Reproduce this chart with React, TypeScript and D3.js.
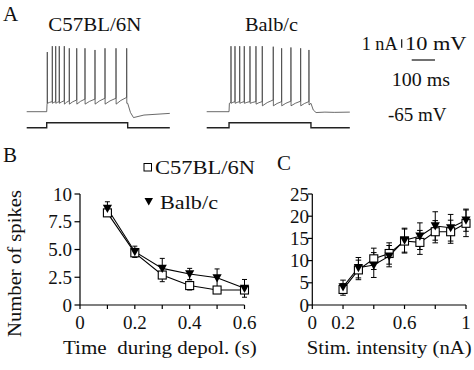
import React from 'react';
import * as d3 from 'd3';

// ---------- Panel A data (traces) ----------
const traceEndMs = 615;
const c57Onset = 86;
const c57Offset = 434;
const c57SpikeTimes = [88.5, 110, 124.6, 140, 161.6, 183, 215, 250.5, 293.5, 336.5, 383.8, 429.7];
const c57SpikePeaks = [6, 13, 13, 13, 13, 10.5, 10.5, 10.5, 8.5, 10.5, 10.5, 10.5];
const c57PreSpike = [-55, -53, -53, -53, -52, -52, -51, -50, -50, -49, -49, -48];
const c57Trough = [-55, -55, -55, -55, -56, -56, -56, -56, -56, -56, -56, -55];
const c57After = [[-55, 0], [-66, 12], [-72, 25], [-69, 70], [-67, 181]]; // [mV, ms after offset]

const balbOnset = 96;
const balbOffset = 448;
const balbSpikeTimes = [104.4, 121.6, 141.8, 161.5, 186, 211.7, 238.8, 286, 322, 362, 403.7, 439.4];
const balbSpikePeaks = [13, 13, 13, 13, 13, 13, 13, 12.4, 10.5, 11.5, 10.5, 8.5];
const balbPreSpike = [-54, -53, -53, -53, -53, -53, -53, -51, -53, -52.5, -52.5, -53];
const balbTrough = [-55, -55, -55, -55, -55, -56, -58, -58, -58, -58, -58, -57];
const balbAfter = [[-55, 0], [-63, 10], [-66, 22], [-65.5, 60], [-65.8, 100], [-65.5, 167]];

const stimAmpNA = 0.6;

// ---------- Panel B data ----------
const timeS = [0.1, 0.2, 0.3, 0.4, 0.5, 0.6];
const spikesC57 = [8.3, 4.7, 2.7, 1.75, 1.35, 1.35];
const spikesC57Err = [0.3, 0.4, 0.6, 0.4, 0.2, 0.3];
const spikesBalb = [8.7, 4.8, 3.3, 2.8, 2.45, 1.5];
const spikesBalbErr = [0.6, 0.5, 0.9, 0.5, 0.8, 0.8];
const bXTicks = [0, 0.1, 0.2, 0.3, 0.4, 0.5, 0.6];
const bXLabels = [0, 0.2, 0.4, 0.6];
const bYTicks = [0, 2.5, 5, 7.5, 10];
const bYLabels = ['0', '2.5', '5.0', '7.5', '10'];

// ---------- Panel C data ----------
const stimNA = [0.2, 0.3, 0.4, 0.5, 0.6, 0.7, 0.8, 0.9, 1.0];
const stimC57 = [3.5, 7.9, 10.4, 11.6, 14.4, 14.1, 16.5, 16.5, 18.4];
const stimC57Err = [1.3, 2.2, 2.4, 2.4, 2.7, 2.7, 2.5, 2.6, 3.0];
const stimBalb = [4.1, 8.4, 9.0, 11.0, 14.6, 15.5, 17.8, 17.4, 19.1];
const stimBalbErr = [1.5, 2.3, 2.8, 2.4, 2.7, 3.0, 3.2, 3.0, 2.5];
const cXTicks = [0, 0.2, 0.4, 0.6, 0.8, 1.0];
const cXLabels = ['0', '0.2', '', '0.6', '', '1'];
const cYTicks = [0, 5, 10, 15, 20, 25];

const FONT = 'Liberation Serif';
const INK = '#111';

type Pt = [number, number];

function buildTrace(
  onset: number, offset: number, times: number[], peaks: number[], pre: number[],
  trough: number[], after: number[][]
): Pt[] {
  const pts: Pt[] = [[0, -65], [onset, -65], [onset + 1.5, pre[0] - 1]];
  times.forEach((t, i) => {
    pts.push([t - 0.3, pre[i]]);
    pts.push([t, peaks[i]]);
    pts.push([t + 0.5, trough[i]]);
    const next = i + 1 < times.length ? times[i + 1] : null;
    if (next !== null) {
      const isi = next - t - 0.8;
      pts.push([t + 0.5 + isi * 0.45, trough[i] + 0.55 * (pre[i + 1] - trough[i])]);
    }
  });
  after.forEach(([v, dt]) => pts.push([offset + dt, v]));
  return pts;
}

function Trace({ x0, onset, offset, times, peaks, pre, trough, after }: any) {
  const xT = d3.scaleLinear().domain([0, traceEndMs]).range([x0, x0 + traceEndMs * 0.2327]);
  const yV = d3.scaleLinear().domain([-65, -55]).range([111.7, 103.3]);
  const yI = d3.scaleLinear().domain([0, 1]).range([127.8, 119.4]);
  const pts = buildTrace(onset, offset, times, peaks, pre, trough, after);
  const vLine = d3.line<Pt>().x(d => xT(d[0])).y(d => yV(d[1]));
  const cur: Pt[] = [[0, 0], [onset, 0], [onset, stimAmpNA], [offset, stimAmpNA], [offset, 0], [traceEndMs, 0]];
  const iLine = d3.line<Pt>().x(d => xT(d[0])).y(d => yI(d[1]));
  return (
    <g>
      <path d={vLine(pts) || ''} fill="none" stroke="#444" strokeWidth={0.8} strokeLinejoin="round" />
      <path d={iLine(cur) || ''} fill="none" stroke="#222" strokeWidth={1.4} />
    </g>
  );
}

function Series({ xs, ys, errs, x, y, cap }: any) {
  const line = d3.line<number>().x((_, i) => x(xs[i])).y(d => y(d));
  return (
    <g>
      <path d={line(ys) || ''} fill="none" stroke="#000" strokeWidth={1.1} />
      {ys.map((v: number, i: number) => (
        <g key={i} stroke="#000" strokeWidth={1}>
          <line x1={x(xs[i])} x2={x(xs[i])} y1={y(v - errs[i])} y2={y(v + errs[i])} />
          <line x1={x(xs[i]) - cap} x2={x(xs[i]) + cap} y1={y(v + errs[i])} y2={y(v + errs[i])} />
          <line x1={x(xs[i]) - cap} x2={x(xs[i]) + cap} y1={y(v - errs[i])} y2={y(v - errs[i])} />
        </g>
      ))}
    </g>
  );
}

function Markers({ xs, ys, x, y, marker }: any) {
  return (
    <g>
      {ys.map((v: number, i: number) => {
        const cx = x(xs[i]), cy = y(v);
        return marker === 'square' ? (
          <rect key={i} x={cx - 4} y={cy - 4} width={8} height={8} fill="#fff" stroke="#000" strokeWidth={1.1} />
        ) : (
          <path key={i} d={`M${cx - 4.6},${cy - 3.6}L${cx + 4.6},${cy - 3.6}L${cx},${cy + 4.6}Z`} fill="#000" />
        );
      })}
    </g>
  );
}

function T({ x, y, children, size = 19, anchor = 'start', len, rotate }: any) {
  return (
    <text
      x={x}
      y={y}
      style={{ fontFamily: FONT, fontSize: size, whiteSpace: 'pre' }}
      fill={INK}
      textAnchor={anchor}
      textLength={len}
      lengthAdjust={len ? 'spacingAndGlyphs' : undefined}
      transform={rotate ? `rotate(${rotate},${x},${y})` : undefined}
    >
      {children}
    </text>
  );
}

export default function App() {
  // Panel B scales
  const xB = d3.scaleLinear().domain([0, 0.6]).range([80, 244.5]);
  const yB = d3.scaleLinear().domain([0, 10]).range([305, 194]);
  // Panel C scales
  const xC = d3.scaleLinear().domain([0, 1]).range([312.3, 466]);
  const yC = d3.scaleLinear().domain([0, 25]).range([305, 194]);

  return (
    <svg width={474} height={370} viewBox="0 0 474 370"
      style={{ position: 'absolute', left: 0, top: 0, background: '#fff', display: 'block' }}>
      <rect x={0} y={0} width={474} height={370} fill="#fff" />

      {/* Panel A */}
      <T x={3} y={21} size={21}>A</T>
      <T x={48.3} y={30.5} len={93}>C57BL/6N</T>
      <T x={245} y={30.5} len={53}>Balb/c</T>
      <Trace x0={26.7} onset={c57Onset} offset={c57Offset} times={c57SpikeTimes}
        peaks={c57SpikePeaks} pre={c57PreSpike} trough={c57Trough} after={c57After} />
      <Trace x0={206.7} onset={balbOnset} offset={balbOffset} times={balbSpikeTimes}
        peaks={balbSpikePeaks} pre={balbPreSpike} trough={balbTrough} after={balbAfter} />
      {/* scale bars */}
      <line x1={401.7} x2={401.7} y1={39.3} y2={47.7} stroke="#111" strokeWidth={1.2} />
      <line x1={411.7} x2={411.7 + 100 * 0.2327} y1={60} y2={60} stroke="#111" strokeWidth={1.2} />
      <T x={361.7} y={49.5} len={36}>1 nA</T>
      <T x={405} y={49.5} len={61.5}>10 mV</T>
      <T x={391.7} y={86} len={58.3}>100 ms</T>
      <T x={388} y={121}>-65 mV</T>

      {/* Panel B */}
      <T x={3} y={162} size={21}>B</T>
      <g stroke="#000" strokeWidth={1.2}>
        <line x1={xB(0)} x2={xB(0)} y1={yB(0)} y2={yB(10)} />
        <line x1={xB(0)} x2={xB(0.6)} y1={yB(0)} y2={yB(0)} />
        {bYTicks.map(t => <line key={t} x1={xB(0) - 5.5} x2={xB(0)} y1={yB(t)} y2={yB(t)} />)}
        {bXTicks.map(t => <line key={t} x1={xB(t)} x2={xB(t)} y1={yB(0)} y2={yB(0) + 4} />)}
      </g>
      {bYTicks.map((t, i) => <T key={t} x={72} y={yB(t) + 6.5} anchor="end">{bYLabels[i]}</T>)}
      {bXLabels.map(t => <T key={t} x={xB(t)} y={328.5} anchor="middle">{String(t)}</T>)}
      <Series xs={timeS} ys={spikesC57} errs={spikesC57Err} x={xB} y={yB} cap={2.5} />
      <Series xs={timeS} ys={spikesBalb} errs={spikesBalbErr} x={xB} y={yB} cap={2.5} />
      <Markers xs={timeS} ys={spikesC57} x={xB} y={yB} marker="square" />
      <Markers xs={timeS} ys={spikesBalb} x={xB} y={yB} marker="tri" />
      {/* legend */}
      <rect x={144} y={163.5} width={7.5} height={7.5} fill="#fff" stroke="#000" strokeWidth={1} />
      <T x={155} y={173.5} len={100}>C57BL/6N</T>
      <path d="M144.5,198L153,198L148.75,205.5Z" fill="#000" />
      <T x={160} y={208.5} len={58}>Balb/c</T>
      <T x={21} y={263.5} anchor="middle" rotate={-90} len={147}>Number of spikes</T>
      <T x={63} y={354} len={193.7}>{'Time  during depol. (s)'}</T>

      {/* Panel C */}
      <T x={277} y={170} size={21}>C</T>
      <g stroke="#000" strokeWidth={1.2}>
        <line x1={xC(0)} x2={xC(0)} y1={yC(0)} y2={yC(25)} />
        <line x1={xC(0)} x2={xC(1)} y1={yC(0)} y2={yC(0)} />
        {cYTicks.map(t => <line key={t} x1={xC(0) - 4.5} x2={xC(0)} y1={yC(t)} y2={yC(t)} />)}
        {cXTicks.map(t => <line key={t} x1={xC(t)} x2={xC(t)} y1={yC(0)} y2={yC(0) + 4} />)}
      </g>
      {cYTicks.map(t => <T key={t} x={309} y={yC(t) + 6.5} anchor="end">{String(t)}</T>)}
      {cXTicks.map((t, i) => cXLabels[i] ? <T key={t} x={xC(t)} y={328.5} anchor="middle">{cXLabels[i]}</T> : null)}
      <Series xs={stimNA} ys={stimC57} errs={stimC57Err} x={xC} y={yC} cap={2.8} />
      <Series xs={stimNA} ys={stimBalb} errs={stimBalbErr} x={xC} y={yC} cap={2.8} />
      <Markers xs={stimNA} ys={stimC57} x={xC} y={yC} marker="square" />
      <Markers xs={stimNA} ys={stimBalb} x={xC} y={yC} marker="tri" />
      <T x={306.7} y={353.5} len={165}>Stim. intensity (nA)</T>
    </svg>
  );
}
